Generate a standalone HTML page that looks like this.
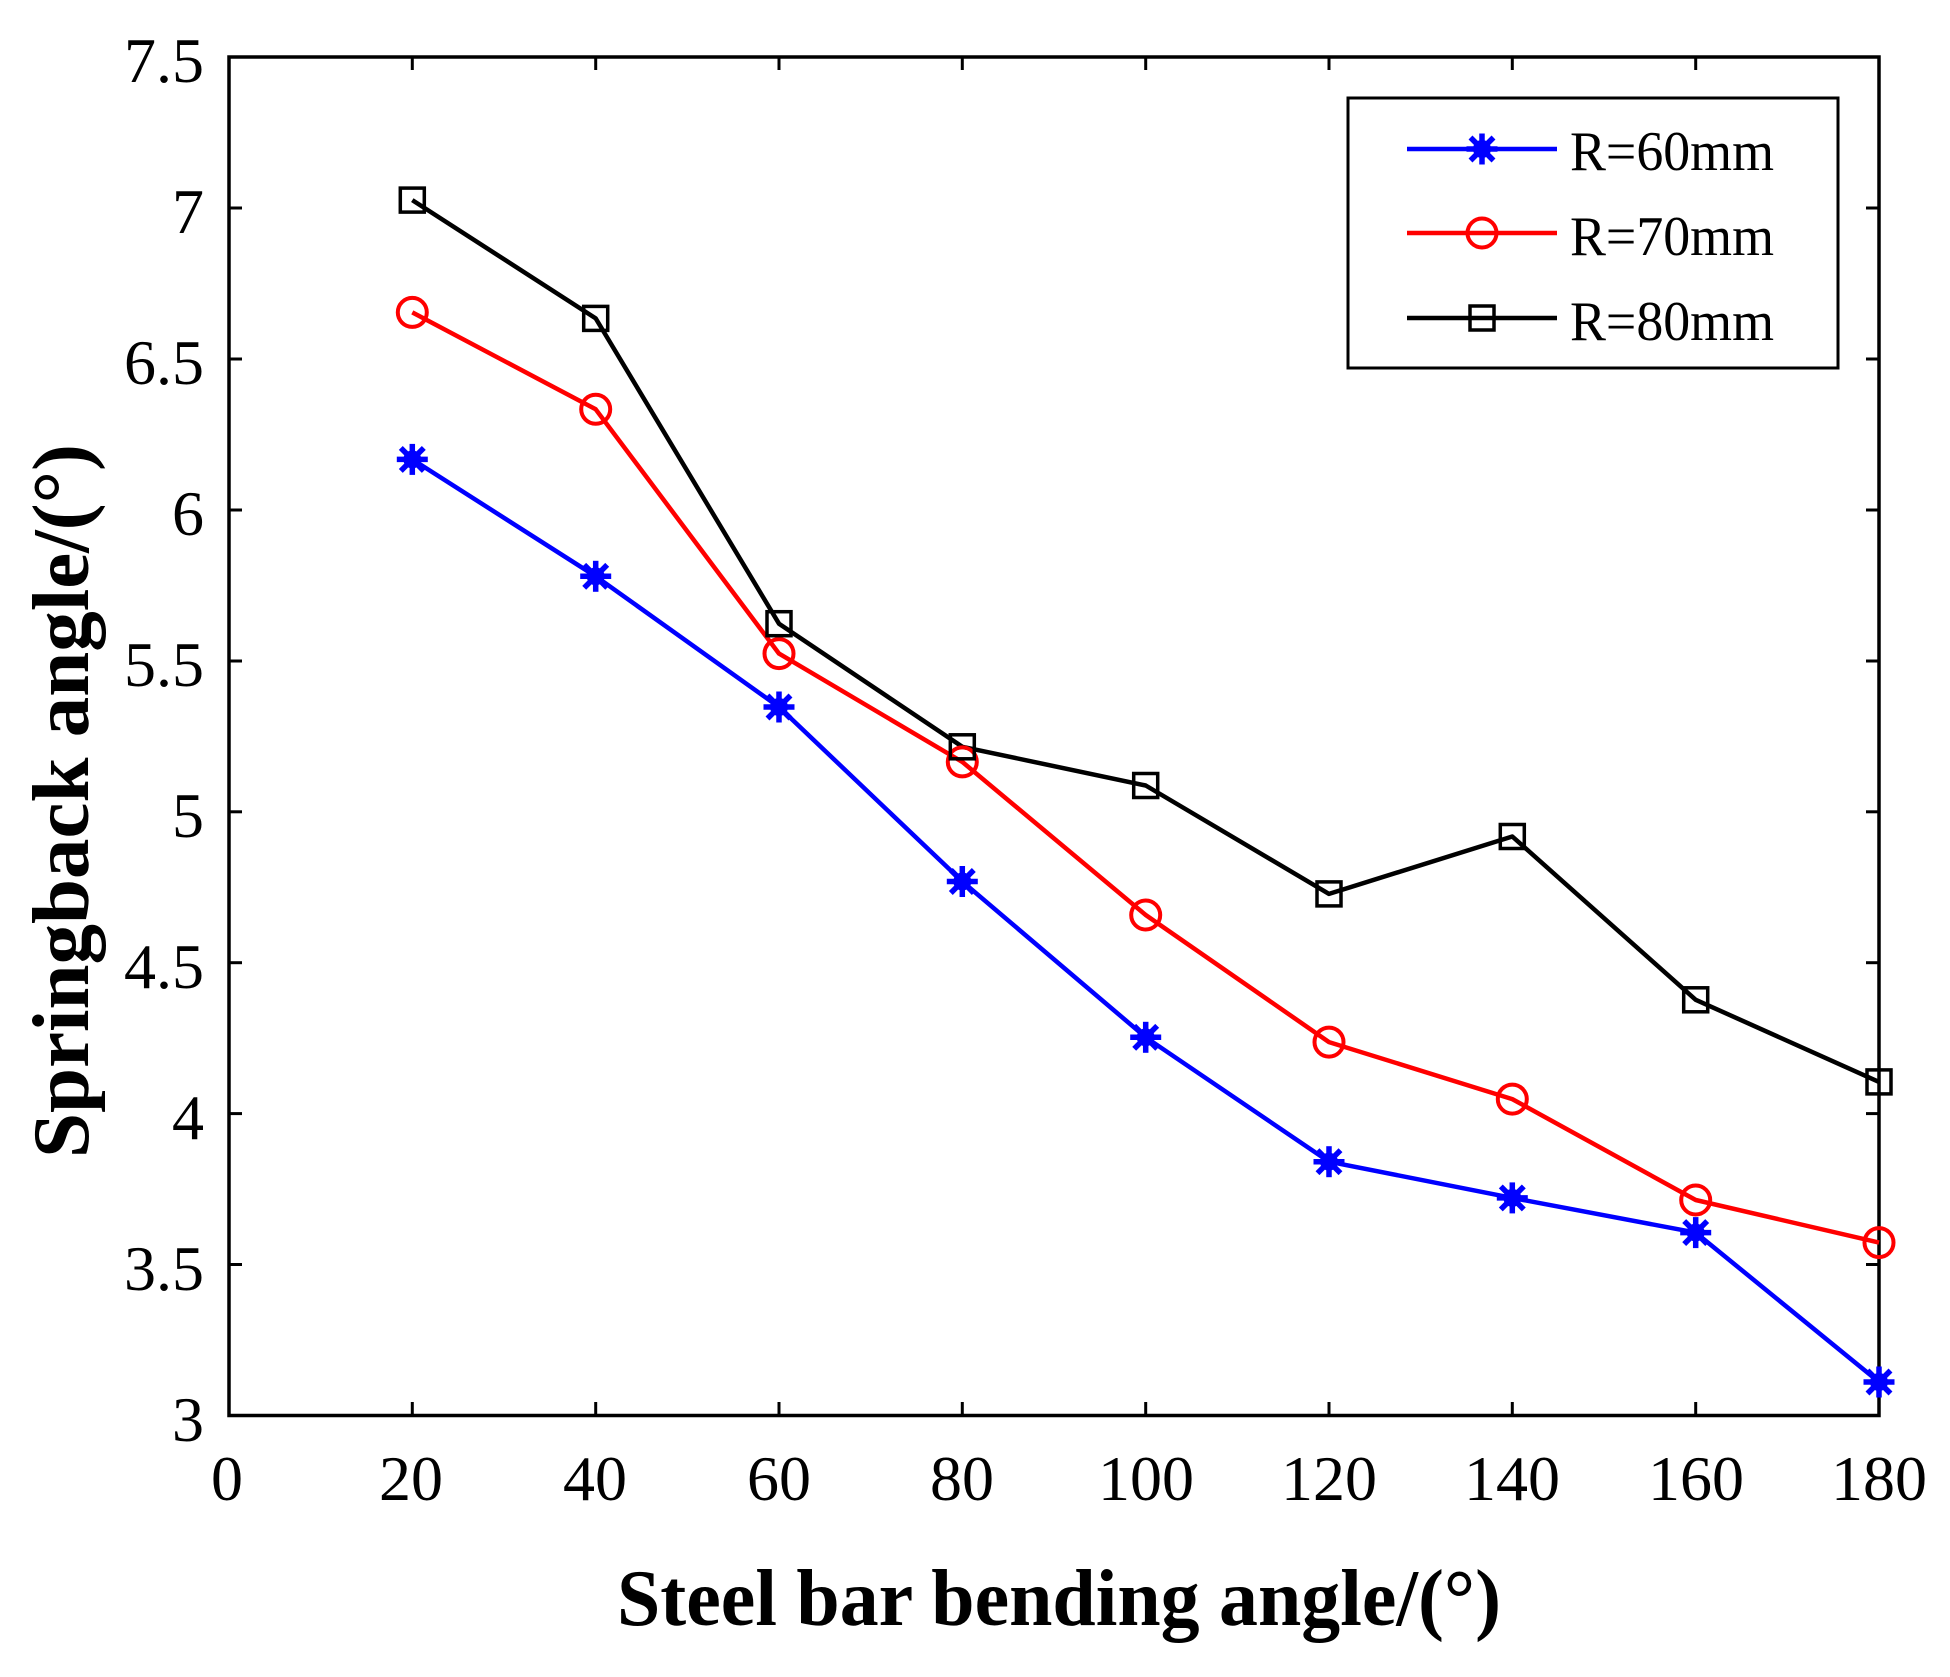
<!DOCTYPE html>
<html>
<head>
<meta charset="utf-8">
<style>
  html,body{margin:0;padding:0;background:#fff;}
  svg{display:block;}
  text{font-family:"Liberation Serif","Times New Roman",serif;fill:#000;}
</style>
</head>
<body>
<svg width="1950" height="1677" viewBox="0 0 1950 1677" xmlns="http://www.w3.org/2000/svg">
  <rect x="0" y="0" width="1950" height="1677" fill="#fff"/>

  <!-- ticks -->
  <g stroke="#000" stroke-width="3">
    <line x1="412.3" y1="1415" x2="412.3" y2="1402"/>
    <line x1="595.7" y1="1415" x2="595.7" y2="1402"/>
    <line x1="779" y1="1415" x2="779" y2="1402"/>
    <line x1="962.3" y1="1415" x2="962.3" y2="1402"/>
    <line x1="1145.7" y1="1415" x2="1145.7" y2="1402"/>
    <line x1="1329" y1="1415" x2="1329" y2="1402"/>
    <line x1="1512.3" y1="1415" x2="1512.3" y2="1402"/>
    <line x1="1695.7" y1="1415" x2="1695.7" y2="1402"/>
    <line x1="412.3" y1="57" x2="412.3" y2="70"/>
    <line x1="595.7" y1="57" x2="595.7" y2="70"/>
    <line x1="779" y1="57" x2="779" y2="70"/>
    <line x1="962.3" y1="57" x2="962.3" y2="70"/>
    <line x1="1145.7" y1="57" x2="1145.7" y2="70"/>
    <line x1="1329" y1="57" x2="1329" y2="70"/>
    <line x1="1512.3" y1="57" x2="1512.3" y2="70"/>
    <line x1="1695.7" y1="57" x2="1695.7" y2="70"/>
    <line x1="229" y1="208" x2="242" y2="208"/>
    <line x1="229" y1="359" x2="242" y2="359"/>
    <line x1="229" y1="510" x2="242" y2="510"/>
    <line x1="229" y1="661" x2="242" y2="661"/>
    <line x1="229" y1="811.8" x2="242" y2="811.8"/>
    <line x1="229" y1="962.7" x2="242" y2="962.7"/>
    <line x1="229" y1="1113.6" x2="242" y2="1113.6"/>
    <line x1="229" y1="1264.5" x2="242" y2="1264.5"/>
    <line x1="1879" y1="208" x2="1866" y2="208"/>
    <line x1="1879" y1="359" x2="1866" y2="359"/>
    <line x1="1879" y1="510" x2="1866" y2="510"/>
    <line x1="1879" y1="661" x2="1866" y2="661"/>
    <line x1="1879" y1="811.8" x2="1866" y2="811.8"/>
    <line x1="1879" y1="962.7" x2="1866" y2="962.7"/>
    <line x1="1879" y1="1113.6" x2="1866" y2="1113.6"/>
    <line x1="1879" y1="1264.5" x2="1866" y2="1264.5"/>
  </g>

  <!-- axes box -->
  <rect x="229" y="57" width="1650" height="1358.5" fill="none" stroke="#000" stroke-width="3.5"/>

  <!-- y tick labels -->
  <g font-size="64" text-anchor="end">
    <text x="204" y="82">7.5</text>
    <text x="204" y="233">7</text>
    <text x="204" y="384">6.5</text>
    <text x="204" y="535">6</text>
    <text x="204" y="686">5.5</text>
    <text x="204" y="837">5</text>
    <text x="204" y="988">4.5</text>
    <text x="204" y="1139">4</text>
    <text x="204" y="1290">3.5</text>
    <text x="204" y="1441">3</text>
  </g>

  <!-- x tick labels -->
  <g font-size="64" text-anchor="middle">
    <text x="227" y="1500">0</text>
    <text x="411" y="1500">20</text>
    <text x="595" y="1500">40</text>
    <text x="779" y="1500">60</text>
    <text x="962" y="1500">80</text>
    <text x="1146" y="1500">100</text>
    <text x="1329" y="1500">120</text>
    <text x="1512" y="1500">140</text>
    <text x="1696" y="1500">160</text>
    <text x="1879" y="1500">180</text>
  </g>

  <!-- axis labels -->
  <text x="617" y="1625" font-size="81" font-weight="bold" textLength="884" lengthAdjust="spacingAndGlyphs">Steel bar bending angle/(°)</text>
  <text transform="translate(88,1158) rotate(-90)" x="0" y="0" font-size="80" font-weight="bold" textLength="714" lengthAdjust="spacingAndGlyphs">Springback angle/(°)</text>

  <!-- series lines -->
  <polyline fill="none" stroke="#0000ff" stroke-width="4.5" stroke-linejoin="round"
    points="412.3,459.4 595.7,576.3 779,707 962.3,881.5 1145.7,1037.3 1329,1161.7 1512.3,1197.9 1695.7,1232.6 1879,1382"/>
  <polyline fill="none" stroke="#ff0000" stroke-width="4.5" stroke-linejoin="round"
    points="412.3,312.4 595.7,409.3 779,653.6 962.3,761.9 1145.7,915 1329,1042.1 1512.3,1099.1 1695.7,1200 1879,1242.6"/>
  <polyline fill="none" stroke="#000" stroke-width="4.5" stroke-linejoin="round"
    points="412.3,200.1 595.7,318.4 779,623.7 962.3,746.8 1145.7,785.5 1329,893.9 1512.3,836.5 1695.7,999.8 1879,1081.9"/>

  <defs>
    <g id="star">
      <g stroke="#0000ff" stroke-width="5.5">
        <line x1="-15.5" y1="0" x2="15.5" y2="0"/>
        <line x1="0" y1="-15.5" x2="0" y2="15.5"/>
        <line x1="-11.5" y1="-11.5" x2="11.5" y2="11.5"/>
        <line x1="-11.5" y1="11.5" x2="11.5" y2="-11.5"/>
      </g>
      <circle r="9" fill="#0000ff"/>
    </g>
    <circle id="circ" r="14.5" fill="none" stroke="#ff0000" stroke-width="4"/>
    <rect id="sq" x="-12" y="-12" width="24" height="24" fill="none" stroke="#000" stroke-width="3.5"/>
  </defs>

  <use href="#star" x="412.3" y="459.4"/>
  <use href="#star" x="595.7" y="576.3"/>
  <use href="#star" x="779" y="707"/>
  <use href="#star" x="962.3" y="881.5"/>
  <use href="#star" x="1145.7" y="1037.3"/>
  <use href="#star" x="1329" y="1161.7"/>
  <use href="#star" x="1512.3" y="1197.9"/>
  <use href="#star" x="1695.7" y="1232.6"/>
  <use href="#star" x="1879" y="1382"/>
  <use href="#circ" x="412.3" y="312.4"/>
  <use href="#circ" x="595.7" y="409.3"/>
  <use href="#circ" x="779" y="653.6"/>
  <use href="#circ" x="962.3" y="761.9"/>
  <use href="#circ" x="1145.7" y="915"/>
  <use href="#circ" x="1329" y="1042.1"/>
  <use href="#circ" x="1512.3" y="1099.1"/>
  <use href="#circ" x="1695.7" y="1200"/>
  <use href="#circ" x="1879" y="1242.6"/>
  <use href="#sq" x="412.3" y="200.1"/>
  <use href="#sq" x="595.7" y="318.4"/>
  <use href="#sq" x="779" y="623.7"/>
  <use href="#sq" x="962.3" y="746.8"/>
  <use href="#sq" x="1145.7" y="785.5"/>
  <use href="#sq" x="1329" y="893.9"/>
  <use href="#sq" x="1512.3" y="836.5"/>
  <use href="#sq" x="1695.7" y="999.8"/>
  <use href="#sq" x="1879" y="1081.9"/>

  <!-- legend -->
  <rect x="1348" y="98" width="490" height="270" fill="#fff" stroke="#000" stroke-width="3"/>
  <line x1="1407" y1="149" x2="1557" y2="149" stroke="#0000ff" stroke-width="4.5"/>
  <use href="#star" x="1482" y="149"/>
  <line x1="1407" y1="233" x2="1557" y2="233" stroke="#ff0000" stroke-width="4.5"/>
  <use href="#circ" x="1482" y="233"/>
  <line x1="1407" y1="318" x2="1557" y2="318" stroke="#000" stroke-width="4.5"/>
  <use href="#sq" x="1482" y="318"/>
  <g font-size="56">
    <text x="1570" y="170" textLength="204" lengthAdjust="spacingAndGlyphs">R=60mm</text>
    <text x="1570" y="255" textLength="204" lengthAdjust="spacingAndGlyphs">R=70mm</text>
    <text x="1570" y="340" textLength="204" lengthAdjust="spacingAndGlyphs">R=80mm</text>
  </g>
</svg>
</body>
</html>
